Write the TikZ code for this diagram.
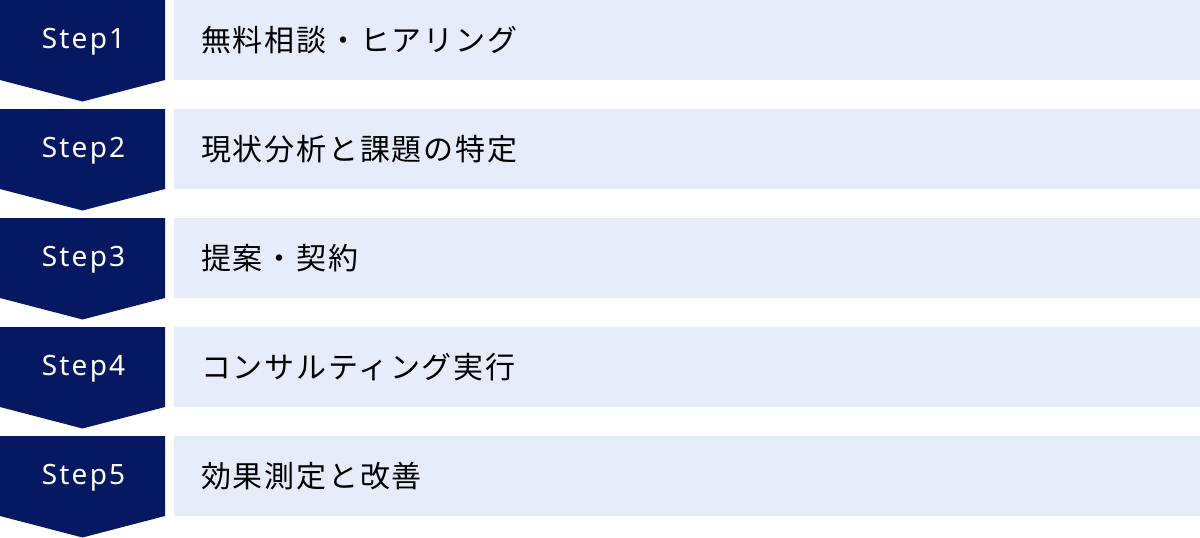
\documentclass[tikz,border=0pt]{standalone}
\usepackage{fontspec}
\setmainfont{Noto Sans}
\newfontfamily\stepfont[LetterSpace=8]{Noto Sans}
\newfontfamily\jpfont[LetterSpace=6]{Noto Sans CJK JP}
\definecolor{navy}{RGB}{6,24,98}
\definecolor{pale}{RGB}{230,236,249}
\tikzset{
  x=1pt,y=1pt,
  steplabel/.style={text=white,font=\stepfont\fontsize{28}{28}\selectfont,anchor=center,inner sep=0pt},
  boxtext/.style={text=black,font=\jpfont\fontsize{30}{30}\selectfont,anchor=west,inner sep=0pt},
  stepshape/.style={fill=navy},
  bandshape/.style={fill=pale}
}
\begin{document}
\begin{tikzpicture}
\useasboundingbox (0,0) rectangle (1200,-538);
\foreach \i/\t in {1/無料相談・ヒアリング,2/現状分析と課題の特定,3/提案・契約,4/コンサルティング実行,5/効果測定と改善}{
  \pgfmathsetmacro{\top}{-(\i-1)*109}
  \fill[stepshape] (0,\top) -- (165,\top) -- (165,\top-80) -- (82.5,\top-101.5) -- (0,\top-80) -- cycle;
  \fill[bandshape] (174,\top) rectangle (1200,\top-80);
  \node[steplabel] (s\i) at (83.5,\top-42) {Step\i};
  \node[boxtext] (t\i) at (201,\top-40) {\t};
}
\end{tikzpicture}
\end{document}
